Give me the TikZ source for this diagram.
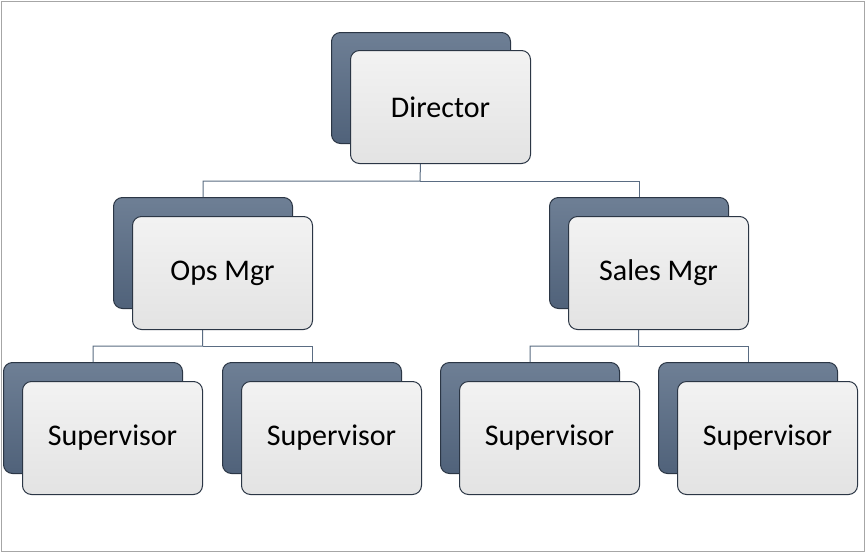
\documentclass[tikz,border=0pt]{standalone}
\usepackage{fontspec}
\setmainfont{Carlito}
\definecolor{slate}{HTML}{50627A}
\definecolor{slatetop}{HTML}{6E7F95}
\definecolor{edge}{HTML}{2B3645}
\definecolor{lineclr}{HTML}{5A6C82}
\begin{document}
\begin{tikzpicture}[x=1pt,y=-1pt,
  backbox/.style={draw=edge,line width=1pt,rounded corners=9pt,top color=slatetop,bottom color=slate,minimum width=179pt,minimum height=111pt,anchor=north west,inner sep=0pt},
  frontbox/.style={draw=edge,line width=1pt,rounded corners=9pt,top color=gray!10,bottom color=gray!22,minimum width=180pt,minimum height=113pt,anchor=north west,inner sep=0pt,font=\fontsize{30}{34}\selectfont},
  conn/.style={draw=lineclr,line width=1pt}]
\draw[gray!70,line width=1pt,fill=white] (1,1) rectangle (864,551);
\useasboundingbox (0,0) rectangle (866,554);
% Director
\node[backbox] (db) at (331,32) {};
\node[backbox] (ob) at (113,197) {};
\node[backbox] (sb) at (549,197) {};
\node[backbox] (b1) at (3,362) {};
\node[backbox] (b2) at (222,362) {};
\node[backbox] (b3) at (440,362) {};
\node[backbox] (b4) at (658,362) {};
\coordinate (dj) at (420,181);
\coordinate (oj) at (202.5,346);
\coordinate (sj) at (638.5,346);
\draw[conn] (db.south) -- (dj) -| (ob.north);
\draw[conn] (dj) -| (sb.north);
\draw[conn] (ob.south) -- (oj) -| (b1.north);
\draw[conn] (oj) -| (b2.north);
\draw[conn] (sb.south) -- (sj) -| (b3.north);
\draw[conn] (sj) -| (b4.north);
\node[frontbox] (d) at (350,50) {Director};
\node[frontbox] (o) at (132,216) {Ops Mgr};
\node[frontbox] (s) at (568,216) {Sales Mgr};
\node[frontbox] (s1) at (22,381) {Supervisor};
\node[frontbox] (s2) at (241,381) {Supervisor};
\node[frontbox] (s3) at (459,381) {Supervisor};
\node[frontbox] (s4) at (677,381) {Supervisor};
\end{tikzpicture}
\end{document}
